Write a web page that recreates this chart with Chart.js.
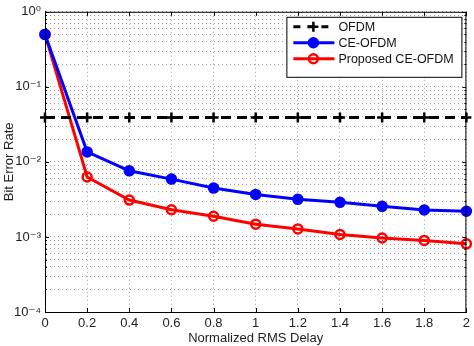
<!DOCTYPE html>
<html>
<head>
<meta charset="utf-8">
<script src="https://cdn.jsdelivr.net/npm/chart.js@4/dist/chart.umd.min.js"></script>
<style>
    html, body { margin: 0; padding: 0; background: #fff; }
    #wrap { width: 474px; height: 346px; }
</style>
</head>
<body>
<div id="wrap"><canvas id="chart-ber"></canvas></div>
<script>
"use strict";

const delays = [0, 0.2, 0.4, 0.6, 0.8, 1.0, 1.2, 1.4, 1.6, 1.8, 2.0];
const ofdmBer = [0.039, 0.039, 0.039, 0.039, 0.039, 0.039, 0.039, 0.039, 0.039, 0.039, 0.039];
const ceOfdmBer = [0.5, 0.0136, 0.0076, 0.0059, 0.00448, 0.00369, 0.00317, 0.00289, 0.00256, 0.00229, 0.0022];
const proposedBer = [0.5, 0.0063, 0.0031, 0.0023, 0.00189, 0.00148, 0.00128, 0.00108, 0.00097, 0.0009, 0.00081];
const decades = [1e-4, 1e-3, 1e-2, 1e-1];
const mantissas = [1, 2, 3, 4, 5, 6, 7, 8, 9];

const FONT = "'Liberation Sans', Arial, 'DejaVu Sans', sans-serif";

// gridline values for the log axis (1..9 per decade)
const yGrid = [];
decades.forEach(d => mantissas.forEach(m => yGrid.push(+(d * m).toPrecision(3))));
yGrid.push(1);

const sup = { '0': '⁰', '1': '¹', '2': '²', '3': '³', '4': '⁴', '-': '⁻' };
function isDecade(v) {
    const e = Math.log10(v);
    return Math.abs(e - Math.round(e)) < 1e-9;
}
function powLabel(v) {
    if (!isDecade(v)) return '';
    return '10' + String(Math.round(Math.log10(v))).split('').map(c => sup[c]).join('');
}

function toPoints(arr) {
    return delays.map((x, i) => ({ x: x, y: arr[i] }));
}

const series = [
    { label: 'OFDM', data: ofdmBer, color: '#000000', style: 'cross', dash: [10, 6], fill: '#000000', r: 5 },
    { label: 'CE-OFDM', data: ceOfdmBer, color: '#0000ff', style: 'circle', dash: [], fill: '#0000ff', r: 4.5 },
    { label: 'Proposed CE-OFDM', data: proposedBer, color: '#ff0000', style: 'circle', dash: [], fill: 'rgba(0,0,0,0)', r: 4.5 }
];

// box round the plot area, with inward tick marks
const framePlugin = {
    id: 'frame',
    afterDraw(chart) {
        const { ctx, chartArea: a } = chart;
        const xs = chart.scales.x, ys = chart.scales.y;
        ctx.save();
        ctx.strokeStyle = '#000';
        ctx.lineWidth = 1;
        ctx.strokeRect(a.left + 0.5, a.top + 0.5, a.right - a.left - 1, a.bottom - a.top);
        ctx.beginPath();
        delays.forEach(d => {
            const px = Math.round(xs.getPixelForValue(d)) + 0.5;
            ctx.moveTo(px, a.bottom); ctx.lineTo(px, a.bottom - 4);
            ctx.moveTo(px, a.top); ctx.lineTo(px, a.top + 4);
        });
        yGrid.forEach(v => {
            const py = Math.round(ys.getPixelForValue(v)) + 0.5;
            const len = isDecade(v) ? 4 : 2;
            ctx.moveTo(a.left, py); ctx.lineTo(a.left + len, py);
            ctx.moveTo(a.right, py); ctx.lineTo(a.right - len, py);
        });
        ctx.stroke();
        ctx.restore();
    }
};

// legend box in the upper right corner
const legendBoxPlugin = {
    id: 'legendBox',
    afterDraw(chart) {
        const ctx = chart.ctx;
        const a = chart.chartArea;
        const x0 = a.right - 180, y0 = a.top + 5, w = 175, h = 60;
        ctx.save();
        ctx.fillStyle = '#fff';
        ctx.fillRect(x0, y0, w, h);
        ctx.strokeStyle = '#000';
        ctx.lineWidth = 1;
        ctx.strokeRect(x0 + 0.5, y0 + 0.5, w, h);
        series.forEach((s, i) => {
            const y = y0 + 10 + i * 16;
            const mx = x0 + 27;
            ctx.strokeStyle = s.color;
            ctx.lineWidth = 3;
            ctx.setLineDash(s.dash.length ? [7, 7] : []);
            ctx.beginPath();
            ctx.moveTo(x0 + 7, y);
            ctx.lineTo(x0 + 48, y);
            ctx.stroke();
            ctx.setLineDash([]);
            ctx.lineWidth = 2.5;
            ctx.beginPath();
            if (s.style === 'circle') {
                ctx.arc(mx, y, s.r, 0, Math.PI * 2);
                ctx.fillStyle = s.fill;
                ctx.fill();
            } else {
                ctx.moveTo(mx - s.r, y); ctx.lineTo(mx + s.r, y);
                ctx.moveTo(mx, y - s.r); ctx.lineTo(mx, y + s.r);
            }
            ctx.stroke();
            ctx.fillStyle = '#111';
            ctx.font = '12.5px ' + FONT;
            ctx.textAlign = 'left';
            ctx.textBaseline = 'middle';
            ctx.fillText(s.label, x0 + 52, y + 1);
        });
        ctx.restore();
    }
};

new Chart(document.getElementById('chart-ber').getContext('2d'), {
    type: 'line',
    data: {
        datasets: series.map(s => ({
            label: s.label,
            data: toPoints(s.data),
            borderColor: s.color,
            backgroundColor: s.fill,
            borderWidth: 3,
            borderDash: s.dash,
            pointStyle: s.style,
            pointRadius: s.r,
            pointBorderWidth: 2.5,
            pointBorderColor: s.color,
            pointBackgroundColor: s.fill,
            tension: 0,
            clip: false
        }))
    },
    options: {
        responsive: true,
        maintainAspectRatio: false,
        animation: false,
        layout: {
            padding: { top: 10, right: 6, left: 0, bottom: 0 }
        },
        plugins: {
            legend: { display: false },
            tooltip: { enabled: false }
        },
        scales: {
            x: {
                type: 'linear',
                min: 0,
                max: 2,
                afterFit: (scale) => { scale.height = 34; },
                ticks: {
                    stepSize: 0.2,
                    autoSkip: false,
                    maxRotation: 0,
                    padding: 4,
                    color: '#222',
                    font: { family: FONT, size: 13 },
                    callback: (value) => String(Math.round(value * 10) / 10)
                },
                grid: {
                    color: 'rgba(0,0,0,0.38)',
                    lineWidth: 1,
                    drawTicks: false
                },
                border: { display: true, color: '#000', dash: [1, 3] },
                title: {
                    display: true,
                    text: 'Normalized RMS Delay',
                    color: '#222',
                    font: { family: FONT, size: 13 },
                    padding: { top: 0, bottom: 0 }
                }
            },
            y: {
                type: 'logarithmic',
                min: 1e-4,
                max: 1,
                afterFit: (scale) => { scale.width = 45; },
                afterBuildTicks: (scale) => {
                    scale.ticks = yGrid.map(v => ({ value: v }));
                },
                ticks: {
                    autoSkip: false,
                    padding: 4,
                    color: '#222',
                    font: { family: FONT, size: 13 },
                    callback: (value) => powLabel(value)
                },
                grid: {
                    color: 'rgba(0,0,0,0.38)',
                    lineWidth: 1,
                    drawTicks: false
                },
                border: { display: true, color: '#000', dash: [1, 3] },
                title: {
                    display: true,
                    text: 'Bit Error Rate',
                    color: '#222',
                    font: { family: FONT, size: 13 },
                    padding: { top: 2, bottom: 0 }
                }
            }
        }
    },
    plugins: [framePlugin, legendBoxPlugin]
});
</script>
</body>
</html>
